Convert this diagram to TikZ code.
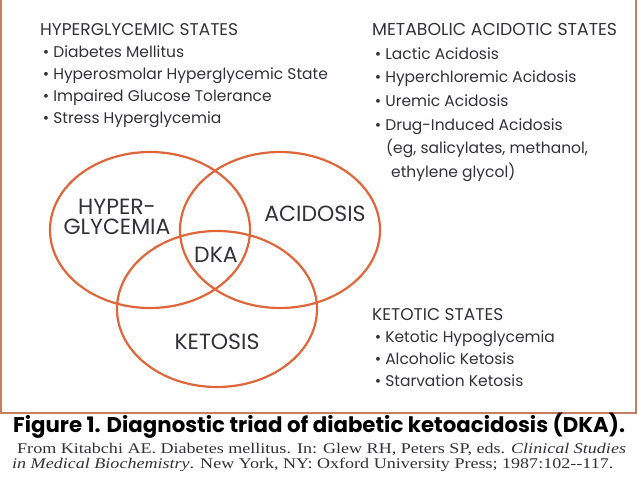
\documentclass[tikz,border=0pt]{standalone}
\usepackage{fontspec}
\setmainfont{Poppins}
\newfontfamily\citefont[FakeStretch=1.22]{Liberation Serif}
\usetikzlibrary{shapes.geometric}
\definecolor{framebrown}{RGB}{200,125,95}
\definecolor{vennorange}{RGB}{222,102,58}
\definecolor{txtgray}{RGB}{50,50,55}

\begin{document}
\begin{tikzpicture}[x=1pt,y=-1pt,
	venn/.style={ellipse,draw=vennorange,line width=2.2pt,minimum width=200pt,minimum height=156pt,inner sep=0pt},
	vlabel/.style={text=txtgray,font=\fontsize{22}{20}\selectfont,align=center,inner sep=0pt},
	statelist/.style={text=txtgray,font=\fontsize{15.5}{22}\selectfont,align=left,anchor=north west,inner sep=0pt}]
	\useasboundingbox (0,0) rectangle (638,479);
	\draw[framebrown,line width=1.5pt] (1,-5) rectangle (636,413);
	% the three circles
	\node[venn] (hyper) at (150,230) {};
	\node[venn] (acid) at (280,230) {};
	\node[venn] (keto) at (217,309) {};
	\node[vlabel] (hyperlbl) at (117,217) {HYPER-\\GLYCEMIA};
	\node[vlabel] (acidlbl) at (315,214) {ACIDOSIS};
	\node[vlabel] (dkalbl) at (216,255) {DKA};
	\node[vlabel] (ketolbl) at (217,342) {KETOSIS};
	% lists of states
	\node[statelist] (hyperstates) at (40,23) {{\fontsize{17}{22}\selectfont HYPERGLYCEMIC STATES}\\
		\,\textbullet\ Diabetes Mellitus\\
		\,\textbullet\ Hyperosmolar Hyperglycemic State\\
		\,\textbullet\ Impaired Glucose Tolerance\\
		\,\textbullet\ Stress Hyperglycemia};
	\node[statelist,font=\fontsize{15.5}{23.7}\selectfont] (acidstates) at (372,23) {{\fontsize{17.3}{22}\selectfont METABOLIC ACIDOTIC STATES}\\
		\,\textbullet\ Lactic Acidosis\\
		\,\textbullet\ Hyperchloremic Acidosis\\
		\,\textbullet\ Uremic Acidosis\\
		\,\textbullet\ Drug-Induced Acidosis\\
		\hspace{14pt}(eg, salicylates, methanol,\\
		\hspace{19pt}ethylene glycol)};
	\node[statelist] (ketostates) at (372,308) {{\fontsize{17}{22}\selectfont KETOTIC STATES}\\
		\,\textbullet\ Ketotic Hypoglycemia\\
		\,\textbullet\ Alcoholic Ketosis\\
		\,\textbullet\ Starvation Ketosis};
	% caption
	\node[anchor=base west,inner sep=0pt,text=black,font=\fontsize{21.3}{22}\bfseries] (caption) at (13,432.5) {Figure 1. Diagnostic triad of diabetic ketoacidosis (DKA).};
	\node[anchor=base west,inner sep=0pt,align=left,text=txtgray,font=\citefont\fontsize{14.8}{15.5}\selectfont] (source) at (12,468.5) {\hspace{5pt}From Kitabchi AE. Diabetes mellitus. In: Glew RH, Peters SP, eds. \textit{Clinical Studies}\\
		\textit{in Medical Biochemistry}. New York, NY: Oxford University Press; 1987:102--117.};
\end{tikzpicture}
\end{document}
